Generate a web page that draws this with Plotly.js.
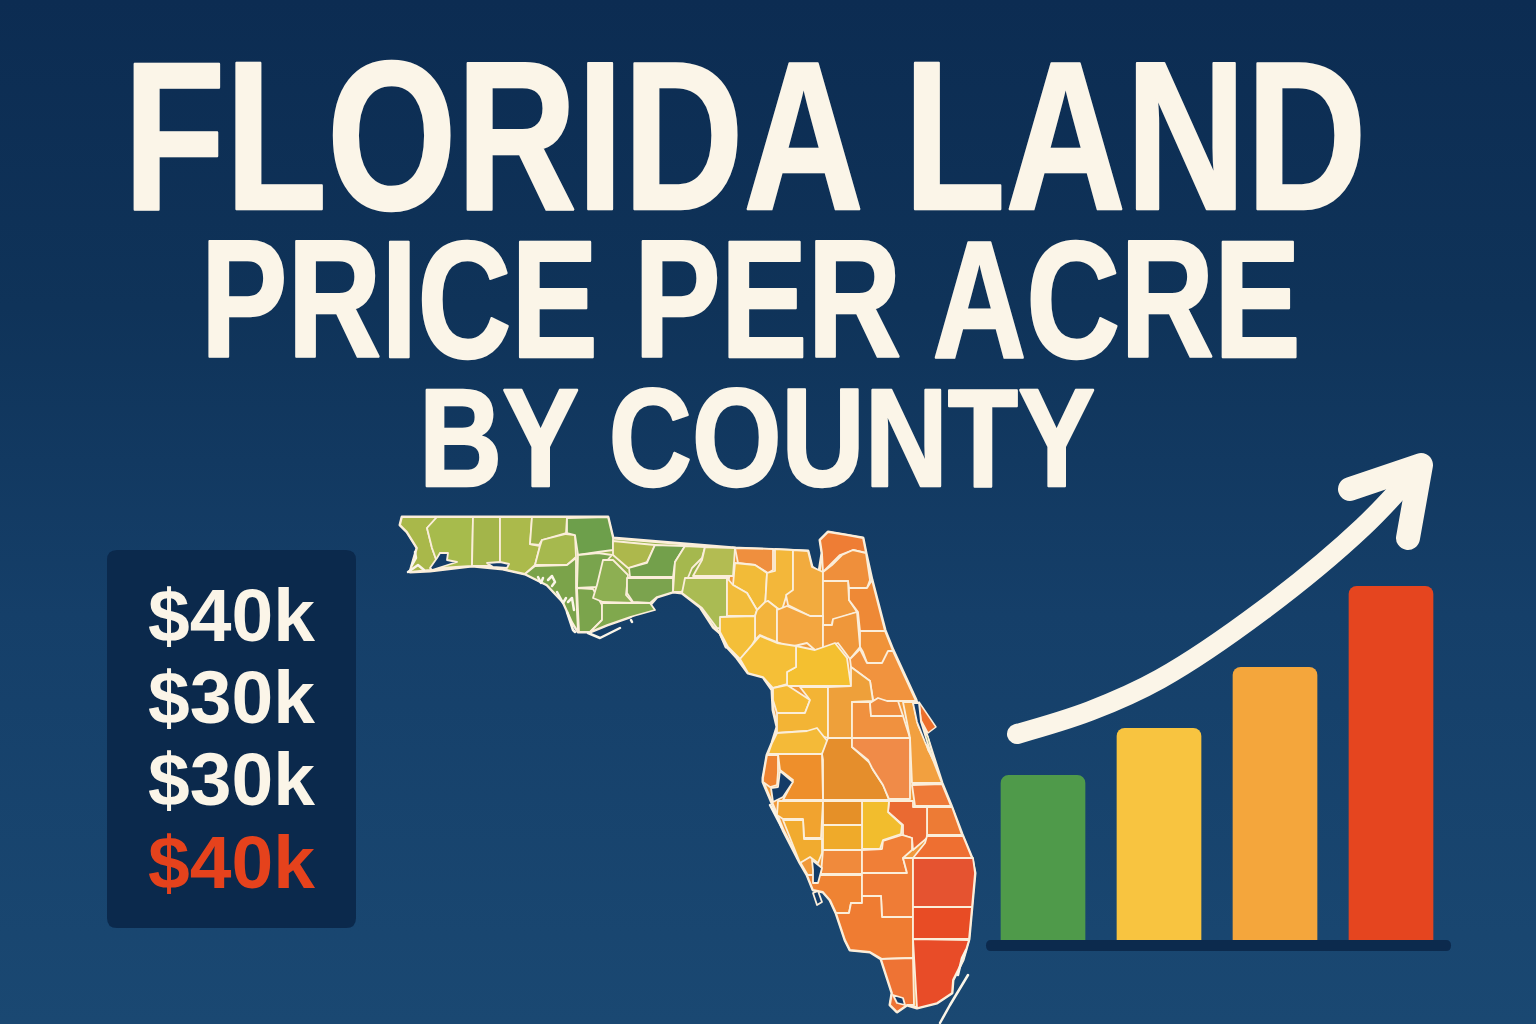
<!DOCTYPE html>
<html><head><meta charset="utf-8">
<script src="https://cdn.plot.ly/plotly-3.0.1.min.js"></script>
<style>
html,body{margin:0;padding:0;width:1536px;height:1024px;overflow:hidden;
 background:linear-gradient(180deg,#0c2c52 0%,#0f3359 30%,#153f69 60%,#1a4872 100%);}
.js-line{stroke-linecap:round;stroke-linejoin:round;}
</style></head><body><div id="chart" style="width:1536px;height:1024px"></div>
<script>
// Bar chart values (relative price level)
const barCategories = ['Low','Medium','High','Highest'];
const barValues = [16.5,21.2,27.3,35.4];
const barColors = ['#4f9a4a','#f8c440','#f4a63c','#e5451f'];

// Price panel
const priceLabels = ['$40k','$30k','$30k','$40k'];
const priceColors = ['#fbf5e8','#fbf5e8','#fbf5e8','#e5421c'];
const priceRows = [615,697,779,862];

// Title lines
const titleLines = ['FLORIDA LAND','PRICE PER ACRE','BY COUNTY'];
const titleWidths = [1243,1100,676];

// Rising trend arrow (map units)
const trendX = [1017,1090,1160,1263,1363,1421];
const trendY = [734,711,679,610,527,465];
const headX = [1350,1421,1408];
const headY = [489,465,538];

// Land underlays, [x,y, x,y, ...] in map units
const panhandleLand = [402,517,608,517,613,538,735,548,733,629,726,647,720,633,713,627,700,607,682,593,673,592,657,597,650,605,630,617,607,625,590,632,578,632,572,622,563,602,547,585,525,574,503,569,472,566,430,571,410,572,417,548,407,532,400,525];
const peninsulaLand = [733,548,808,551,812,567,819,572,822,553,820,540,828,532,847,535,863,538,866,553,872,580,885,630,893,650,916,700,925,730,942,783,951,805,962,834,972,858,975,873,972,906,969,939,963,960,953,980,952,993,937,1003,917,1008,907,1005,897,1012,890,1005,892,993,881,959,870,952,850,950,845,940,836,913,830,900,823,892,813,890,807,875,800,863,783,830,777,815,763,782,763,778,767,755,772,743,777,727,773,710,772,690,763,677,748,673,737,658,727,647,720,633,725,600];

// County outlines
const panhandleCounties = [
[402,517,437,517,427,528,432,548,437,562,430,570,410,572,417,548,407,532,400,525],
[437,517,473,517,472,566,440,568,430,571,437,562,432,548,427,528],
[473,517,500,517,500,563,487,566,472,566],
[500,517,532,517,530,544,540,546,535,565,525,574,503,569,487,566,500,563],
[532,517,567,517,566,533,542,540,539,545,530,544],
[542,540,566,534,575,535,576,557,567,565,535,565,540,546],
[535,566,567,565,576,558,576,588,577,612,578,632,572,622,563,602,547,585,525,574],
[567,518,608,517,613,538,613,550,598,552,578,555,575,535,567,533],
[578,555,598,553,612,555,603,565,597,587,577,588],
[577,588,593,589,602,605,602,620,590,632,579,632],
[603,560,613,560,628,575,626,595,633,603,603,602,593,598,597,585],
[602,603,633,603,650,603,655,610,630,617,607,625,590,632,602,620],
[613,541,655,545,647,562,628,568,613,555],
[655,545,685,546,675,562,673,577,630,577,629,568,647,563],
[627,578,673,578,673,592,657,597,650,603,633,602,627,593],
[685,546,705,547,702,558,692,568,682,592,673,592,675,562],
[705,547,735,548,733,576,693,576,702,560],
[685,578,727,578,727,629,717,628,702,608,682,593]
];
const panhandleColors = ['#a9b84a','#a7bb4c','#a3b54a','#abba4b','#9eb24a','#a6b94e','#7ba34a','#6d9f4b','#79a44d','#7ba44c','#8daf52','#80a84d','#adb84c','#73a04b','#7ba34e','#a5b84e','#b3bc52','#aabb53'];

const northCounties = [
[735,548,773,549,773,570,768,573,755,565,738,563],
[735,563,755,565,767,573,765,608,757,610,747,593,733,585],
[727,578,733,585,747,593,757,610,755,616,727,616],
[767,573,775,571,775,549,793,550,793,592,786,597,782,610,777,608,768,601,765,608],
[793,550,808,551,812,567,823,572,823,616,810,616,788,605,786,595,793,590],
[820,540,828,532,847,535,863,538,866,553,853,550,840,555,832,563,823,572,822,553],
[823,572,832,565,842,555,853,550,866,553,870,580,867,588,849,588,848,581,823,581],
[823,581,848,581,849,600,857,612,833,620,832,625,823,625],
[849,588,867,588,872,580,885,631,860,631,858,612,849,600],
[755,616,757,610,765,602,768,601,777,608,777,642,767,638,760,635,755,640],
[720,617,755,616,755,640,752,645,740,659,728,647,720,632],
[777,610,787,606,810,616,823,616,823,648,815,650,807,643,798,645,790,647,777,642],
[823,625,832,625,833,619,857,612,860,647,850,659,838,643,823,648],
[860,631,885,631,893,651,882,663,867,663,863,652,860,647],
[850,659,860,649,867,663,882,663,888,651,893,651,916,701,887,701,873,700,870,681,851,667],
[796,646,815,650,835,643,847,658,851,686,787,686,787,672,796,667]
];
const northColors = ['#ef8f3e','#f2bb38','#f2bc3a','#f3b73a','#f2ab3e','#ee7d35','#ef8f3b','#f09a3d','#ee8936','#f3b43c','#f4bf39','#f3a640','#ef973a','#f09339','#f1933e','#f4c030'];

const centralCounties = [
[740,659,760,636,777,643,796,646,796,667,787,672,787,684,773,688,763,677,748,673],
[773,688,787,685,810,700,805,713,777,713,773,700],
[800,687,828,687,828,738,807,731,777,733,777,713,805,713,810,700],
[777,733,807,731,817,728,828,742,822,754,768,754,772,743],
[828,687,851,686,851,667,870,681,873,701,852,702,852,738,828,738],
[852,702,870,702,871,716,903,716,910,738,852,738],
[870,703,878,698,887,701,898,701,903,716,871,716],
[903,702,913,702,918,725,925,740,933,760,942,783,912,783,910,738],
[822,754,828,738,852,738,852,747,870,763,873,770,883,785,889,800,823,800,823,760],
[852,738,910,738,910,799,889,799,883,785,872,768,868,760,852,747],
[778,754,822,754,823,800,783,800,790,787,793,780,780,770],
[767,755,778,755,778,772,777,785,770,787,763,782,763,778]
];
const centralColors = ['#f5bf37','#f5bb36','#f3b435','#f4ba38','#eea03a','#f0913f','#ee8d3f','#f2a03f','#e58e2c','#f08b48','#ee8f2b','#ee8330'];

const southCounties = [
[912,785,942,784,951,806,926,806,915,806],
[927,807,952,807,962,835,927,835],
[889,801,913,801,913,807,927,807,927,838,913,850,912,838,903,835,903,825,888,812],
[927,836,963,836,972,858,913,858,925,843],
[862,801,889,801,888,812,902,825,901,834,883,840,880,849,862,849],
[777,815,778,801,823,801,821,838,804,838,803,819,783,819],
[783,820,803,820,804,839,822,839,822,853,818,863,810,857,800,863],
[823,801,862,801,862,825,823,825],
[823,825,862,825,862,850,823,850],
[823,850,862,850,862,874,821,874],
[862,850,882,849,883,841,902,835,912,838,912,850,903,858,907,873,862,874],
[821,875,862,875,862,903,851,903,849,913,836,913,830,900,823,892,813,890,807,875,815,875],
[862,873,907,873,903,858,913,858,913,917,882,917,881,896,862,896],
[862,896,881,896,882,917,913,917,913,958,882,959,870,952,850,950,845,940,836,913,849,913,851,903,862,903],
[913,858,973,858,975,873,972,907,913,907],
[913,907,972,907,969,939,913,939],
[913,939,969,940,963,960,953,980,952,993,937,1003,917,1008],
[881,959,913,958,914,1005,907,1005,897,1012,890,1005,892,993]
];
const southColors = ['#ee7a38','#ed7b35','#ea6a32','#ee6f31','#f2bd2d','#f1a32f','#f1ab2f','#e59028','#efaa2a','#f08a3c','#f07f37','#ef8333','#ef7c36','#ef7c32','#e55330','#e84c25','#e84c28','#ee7334'];

// Barrier islands, bays and keys
const islandDark = [919,702,936,727,928,733,921,720];
const islandGreen = [921,726,928,737,934,760,928,750];
const waterBodies = [
[440,553,448,553,447,560,457,562,432,570,430,568,437,558],
[487,563,500,562,509,564,507,568,493,567],
[780,771,793,782,783,797,773,802,771,788,778,787],
[812,860,822,868,818,883,813,883,813,870],
[893,995,903,998,905,1005,897,1003],
[913,703,919,703,921,722,928,745,933,760,925,742,917,722],
[813,893,818,891,822,902,817,905]
];
const coastStrokes = [
[588,633,600,638,620,628],
[631,620,632,622],
[770,805,775,815,782,828],
[940,1023,950,1005,968,975],
[958,975,962,958,966,950],
[412,565,416,558,415,552],
[408,572,418,565,424,570],
[538,577,541,583,543,578],
[548,580,552,576,555,582,552,586],
[557,592,563,603,566,598],
[568,602,572,598,574,610],
[567,612,573,630,575,632]
];

const traces = [];
traces.push({type:'bar',x:barCategories,y:barValues,marker:{color:barColors,line:{width:0}},xaxis:'x',yaxis:'y',hoverinfo:'x+y'});

function pairs(pts){const xs=[],ys=[];for(let k=0;k<pts.length;k+=2){xs.push(pts[k]);ys.push(pts[k+1]);}return [xs,ys];}
function addCounties(list, colors, width){
  list.forEach((pts,i)=>{
    const [xs,ys]=pairs(pts);
    traces.push({type:'scatter',mode:'lines',x:xs.concat(xs[0]),y:ys.concat(ys[0]),fill:'toself',fillcolor:colors[i],
      line:{color:'#fbeeda',width:width},xaxis:'x2',yaxis:'y2',hoverinfo:'skip'});
  });
}
addCounties([panhandleLand,peninsulaLand],['#98b24c','#f0993a'],3);
addCounties(panhandleCounties,panhandleColors,1.8);
addCounties(northCounties,northColors,1.8);
addCounties(centralCounties,centralColors,1.8);
addCounties(southCounties,southColors,1.8);
addCounties([islandDark,islandGreen],['#ec6f2c','#5f9a55'],1.5);
addCounties(waterBodies,waterBodies.map(()=>'#143c68'),1.8);
coastStrokes.forEach(pts=>{
  const [xs,ys]=pairs(pts);
  traces.push({type:'scatter',mode:'lines',x:xs,y:ys,line:{color:'#fbf5e8',width:2.5},xaxis:'x2',yaxis:'y2',hoverinfo:'skip'});
});
traces.push({type:'scatter',mode:'lines',x:trendX,y:trendY,line:{color:'#fbf5e8',width:20,shape:'spline',smoothing:1},xaxis:'x2',yaxis:'y2',hoverinfo:'skip'});
traces.push({type:'scatter',mode:'lines',x:headX,y:headY,line:{color:'#fbf5e8',width:24},xaxis:'x2',yaxis:'y2',hoverinfo:'skip'});

const hidden={visible:false,fixedrange:true};
const titleFont=size=>({family:'"Liberation Sans",Arial,sans-serif',size:size,color:'#fbf5e8',weight:700});

const annotations=[
 {text:titleLines[1],x:751,y:299,xref:'x2',yref:'y2',showarrow:false,font:titleFont(167),xanchor:'center',yanchor:'middle'},
 {text:titleLines[2],x:757,y:437,xref:'x2',yref:'y2',showarrow:false,font:titleFont(140),xanchor:'center',yanchor:'middle'}
];
priceLabels.forEach((t,i)=>annotations.push({text:t,x:231,y:priceRows[i],xref:'x2',yref:'y2',showarrow:false,xanchor:'center',yanchor:'middle',
  font:{family:'"Liberation Sans",Arial,sans-serif',size:75,color:priceColors[i],weight:700}}));

const layout={
 width:1536,height:1024,margin:{l:0,r:0,t:0,b:0},showlegend:false,
 paper_bgcolor:'rgba(0,0,0,0)',plot_bgcolor:'rgba(0,0,0,0)',
 title:{text:titleLines[0],x:745/1536,xref:'paper',xanchor:'center',y:1-135/1024,yref:'paper',yanchor:'middle',font:titleFont(211)},
 bargap:0.27,barcornerradius:8,
 xaxis:Object.assign({domain:[985/1536,1449/1536],range:[-0.5,3.5],type:'category'},hidden),
 yaxis:Object.assign({domain:[1-940/1024,1-440/1024],range:[0,50]},hidden),
 xaxis2:Object.assign({domain:[0,1],range:[0,1536],anchor:'y2'},hidden),
 yaxis2:Object.assign({domain:[0,1],range:[1024,0],anchor:'x2'},hidden),
 annotations:annotations,
 shapes:[
  {type:'path',xref:'x2',yref:'y2',layer:'below',line:{width:0},fillcolor:'#0b294c',
   path:'M117,550 L346,550 Q356,550 356,560 L356,918 Q356,928 346,928 L117,928 Q107,928 107,918 L107,560 Q107,550 117,550 Z'},
  {type:'path',xref:'x2',yref:'y2',layer:'below',line:{width:0},fillcolor:'#0c2a4d',
   path:'M991,940 L1446,940 Q1451,940 1451,945.5 Q1451,951 1446,951 L991,951 Q986,951 986,945.5 Q986,940 991,940 Z'}
 ]
};
Plotly.newPlot('chart',traces,layout,{displayModeBar:false}).then(gd=>{
  // The reference's headline face is condensed and heavy: narrow each line to its measured width
  const fit=(el,w)=>{
    if(!el) return;
    const b=el.getBBox(), cx=b.x+b.width/2, s=w/b.width;
    el.setAttribute('transform','translate('+cx+',0) scale('+s+',1) translate('+(-cx)+',0)');
    el.style.stroke='#fbf5e8'; el.style.strokeWidth='2.5px'; el.style.strokeLinejoin='round';
  };
  fit(gd.querySelector('.gtitle'),titleWidths[0]);
  const notes=gd.querySelectorAll('.annotation-text');
  fit(notes[0],titleWidths[1]);
  fit(notes[1],titleWidths[2]);
});
</script></body></html>
